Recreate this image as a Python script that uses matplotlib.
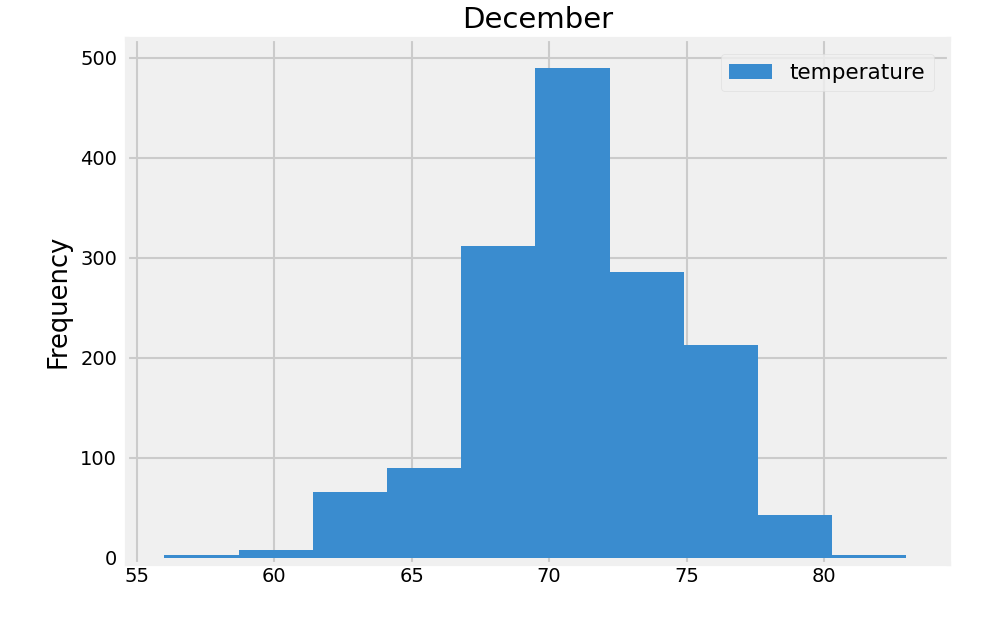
import matplotlib
matplotlib.use('Agg')
import matplotlib.pyplot as plt
import numpy as np

# histogram of December temperatures (10 bins between 56 and 83)
bin_edges = np.linspace(56, 83, 11)
counts = [3, 8, 66, 90, 312, 490, 286, 213, 43, 3]
series_name = 'temperature'
title = 'December'

plt.style.use('fivethirtyeight')
plt.rcParams['font.family'] = ['DejaVu Sans']

fig = plt.figure(figsize=(10.06, 6.18), dpi=100)
fig.patch.set_facecolor('white')
ax = fig.add_axes([0.1262, 0.0874, 0.8171, 0.8495])
ax.set_facecolor('#f0f0f0')

ax.hist(bin_edges[:-1], bins=bin_edges, weights=counts, color='#3a8ccf',
        label=series_name)

ax.set_xlim(54.64, 84.55)
ax.set_ylim(-6, 519)
ax.set_xticks([55, 60, 65, 70, 75, 80])
ax.set_yticks([0, 100, 200, 300, 400, 500])
ax.tick_params(axis='x', labelsize=14, pad=2)
ax.tick_params(axis='y', labelsize=14, pad=7)
ax.set_ylabel('Frequency', fontsize=18.5, labelpad=6)
ax.set_title(title, fontsize=21, pad=8)
ax.grid(True, color='#cbcbcb', linewidth=1.5)
ax.yaxis.get_gridlines()[0].set_visible(False)
ax.set_axisbelow(True)
ax.legend(loc='upper right', fontsize=15.5, frameon=True, facecolor='#f0f0f0',
          edgecolor='#dcdcdc', borderaxespad=0.7)

fig.savefig('out.png', dpi=100, facecolor='white')
